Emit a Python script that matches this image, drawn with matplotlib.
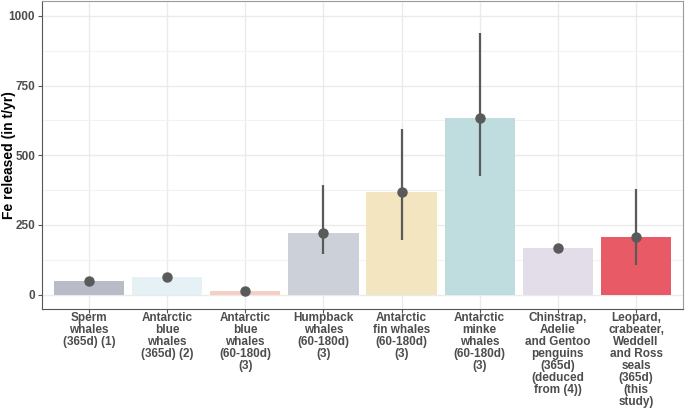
import matplotlib
matplotlib.use("Agg")
import matplotlib.pyplot as plt
from matplotlib.ticker import MultipleLocator

# data
labels = ["Sperm\nwhales\n(365d) (1)",
          "Antarctic\nblue\nwhales\n(365d) (2)",
          "Antarctic\nblue\nwhales\n(60-180d)\n(3)",
          "Humpback\nwhales\n(60-180d)\n(3)",
          "Antarctic\nfin whales\n(60-180d)\n(3)",
          "Antarctic\nminke\nwhales\n(60-180d)\n(3)",
          "Chinstrap,\nAdelie\nand Gentoo\npenguins\n(365d)\n(deduced\nfrom (4))",
          "Leopard,\ncrabeater,\nWeddell\nand Ross\nseals\n(365d)\n(this\nstudy)"]
fe_mean = [50, 65, 14, 221, 368, 632, 169, 208]
err_low = [None, None, None, 145, 195, 424, None, 105]
err_high = [None, None, None, 395, 593, 940, None, 380]
colours = ["#b9bcc7", "#e5f1f4", "#f4cfc2", "#ccd1d9",
           "#f3e5c0", "#bfdcdf", "#e3dde9", "#e85a66"]

plt.rcParams['font.family'] = ['Liberation Sans', 'DejaVu Sans']

fig = plt.figure(figsize=(6.85, 4.08), dpi=100)
ax = fig.add_axes([0.0613, 0.242, 0.9357, 0.756])

x = list(range(len(labels)))

# grid (ggplot-like major + minor)
ax.yaxis.set_major_locator(MultipleLocator(250))
ax.yaxis.set_minor_locator(MultipleLocator(125))
ax.grid(which='major', color='#ebebeb', linewidth=1.0, zorder=0)
ax.grid(which='minor', axis='y', color='#f2f2f2', linewidth=0.8, zorder=0)
ax.set_axisbelow(True)

ax.bar(x, fe_mean, width=0.9, color=colours, zorder=2)

for i in x:
    if err_low[i] is not None:
        ax.plot([i, i], [err_low[i], err_high[i]], color='#5a5a5a',
                linewidth=1.6, zorder=3, solid_capstyle='butt')
ax.plot(x, fe_mean, 'o', color='#5a5a5a', markersize=6.5, zorder=4)

ax.set_xlim(-0.6, 7.6)
ax.set_ylim(-52.5, 1054)
ax.set_xticks(x)
ax.set_xticklabels(labels, fontsize=8.5, fontweight='bold', color='#4d4d4d',
                   linespacing=1.0, va='top')
ax.set_yticks([0, 250, 500, 750, 1000])
ax.tick_params(axis='y', labelsize=8.5, labelcolor='#4d4d4d', length=3,
               color='#555555', width=0.8, pad=2)
ax.tick_params(axis='x', length=2.7, color='#555555', width=0.8, pad=-1)
for t in ax.get_yticklabels():
    t.set_fontweight('bold')
ax.tick_params(which='minor', length=0)

ax.set_ylabel("Fe released (in t/yr)", fontsize=10, fontweight='bold',
              color='black')
ax.yaxis.set_label_coords(-0.041, 0.5)

for s in ax.spines.values():
    s.set_color('#9a9a9a')
    s.set_linewidth(0.8)
ax.spines['left'].set_color('#555555')
ax.spines['bottom'].set_color('#555555')

plt.savefig("out.png", dpi=100)
